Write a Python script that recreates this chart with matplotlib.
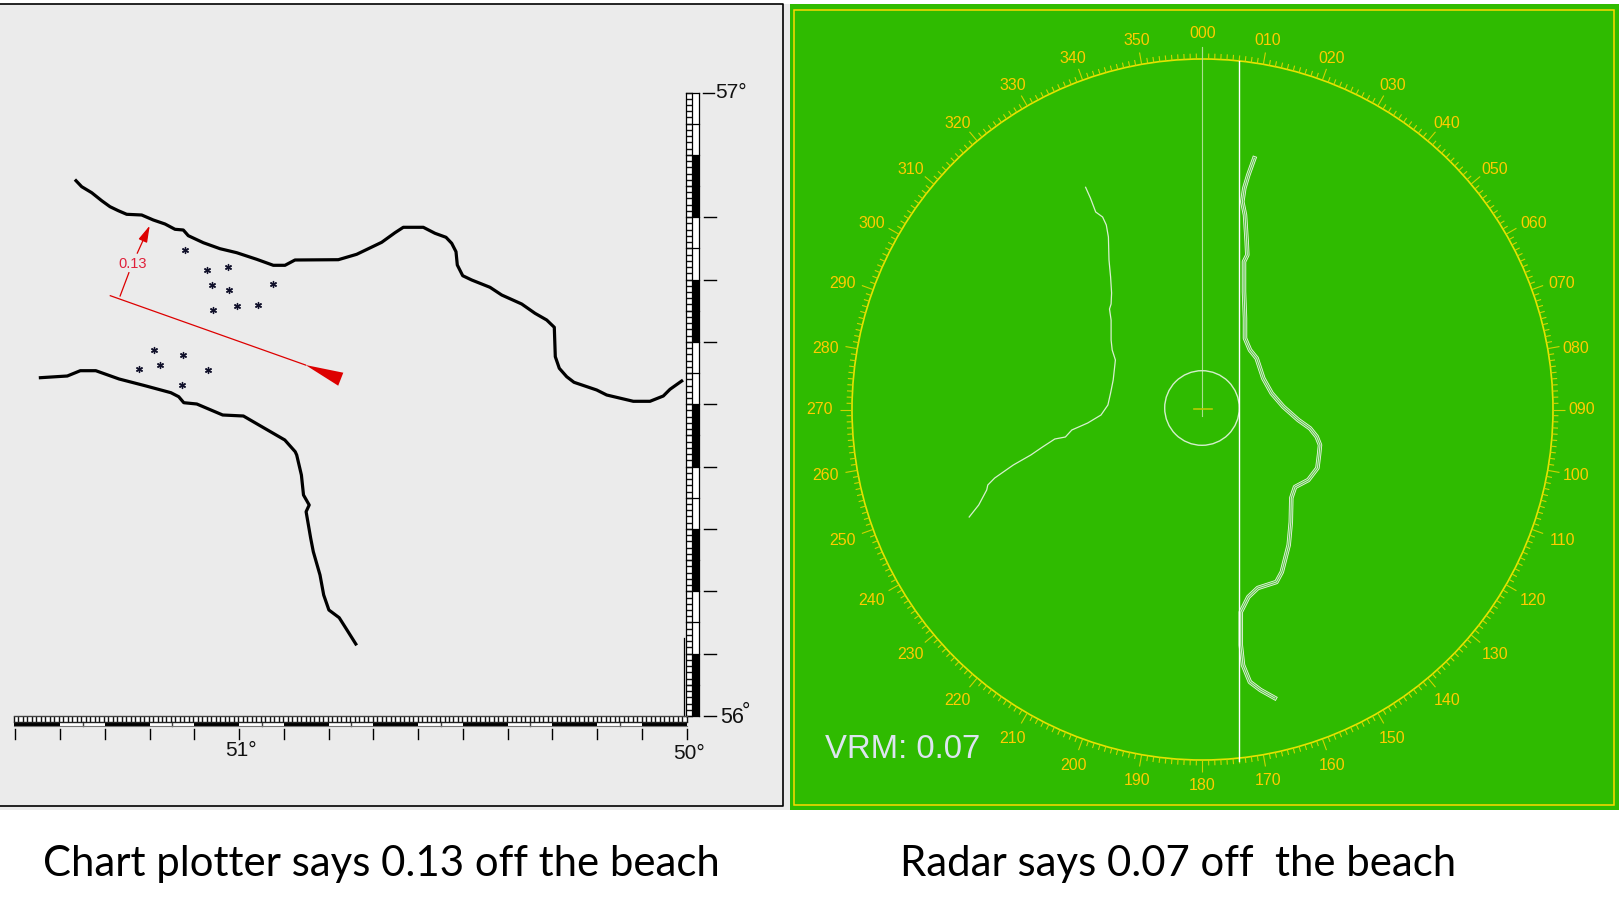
import numpy as np
import matplotlib
matplotlib.use('Agg')
import matplotlib.pyplot as plt
from matplotlib.collections import LineCollection
from matplotlib.patches import Rectangle, Polygon, Circle

# traced shoreline on the chart plotter, picture pixels
upper_coast_x = [76, 81.7, 91.7, 101.7, 110, 118.3, 126.7, 141.7, 153.3, 165, 175, 183.3, 188.3, 203.3, 220, 236.7,
                 256.7, 273.3, 285, 295, 338.3, 356.7, 381.7, 395, 403.3, 423.3, 435, 446, 451.7, 456, 457.3, 462.7,
                 471.7, 490, 501.7, 521.7, 535, 546.7, 554.3, 555.3, 559.3, 566.7, 574, 596.7, 606.7, 633.3, 650,
                 663.3, 670, 681.7]
upper_coast_y = [180.7, 186.7, 192.7, 200.7, 206.7, 210.7, 214.3, 215, 220, 224, 229.3, 230, 235.7, 242.7, 248.7, 252.7,
                 259.3, 265.3, 265.3, 260, 259.7, 254.3, 242.3, 232.7, 227.3, 227.3, 233.3, 237.3, 243.3, 251.7, 265, 275.7,
                 280, 287.3, 295, 304, 313.3, 320, 327.3, 356.7, 368.3, 376.7, 382.3, 390, 395, 401.3, 401.3,
                 396, 389.3, 381]
lower_coast_x = [40.4, 67.3, 80.3, 95.8, 119.1, 145, 170.9, 178.7, 183.8, 196.8, 222.7, 243.4, 258.9, 284.8, 295.2,
                 296.7, 301.4, 303.5, 309.2, 306.1, 310.7, 313.3, 320, 323.7, 328.9, 339.2, 347, 355.8]
lower_coast_y = [377.7, 376, 370.7, 370.7, 379, 385.7, 392.7, 396.7, 402.7, 404, 415, 416, 425, 440, 451.7,
                 455, 475, 495, 505, 511.7, 538.3, 551.7, 575, 595, 610, 617.7, 630, 644]

# soundings
sounding_x = [185.4, 207.2, 228.4, 211.8, 229.4, 272.9, 212.8, 236.7, 257.9, 154.3, 182.8, 160.5, 138.8, 207.7, 181.8]
sounding_y = [250, 270.3, 267.3, 285, 290, 284, 310, 305.7, 304.7, 350.3, 355.3, 365, 369, 370, 384.7]

# radar echoes
radar_left_x = [1085.6, 1090.4, 1095.7, 1102.6, 1106.3, 1108.4, 1109, 1110.6, 1111.6, 1111.1, 1109.5, 1111.1, 1111.1,
                1112.2, 1115.4, 1113.2, 1110.6, 1107.9, 1101, 1087.7, 1071.8, 1065.4, 1054.8, 1042.5, 1030.8, 1013.3,
                994.7, 987.8, 986.7, 978.7, 969.2]
radar_left_y = [187.3, 198, 212, 217, 225, 237, 260, 277, 293, 304, 309, 320, 340,
                350, 360, 380, 393, 405, 415, 423, 430, 437, 439, 447, 455, 465,
                478, 485, 490, 505, 517]
radar_right_x = [1254.3, 1248.3, 1244.3, 1242.3, 1245, 1246.7, 1247.3, 1244, 1244, 1245, 1245, 1250, 1256.7, 1263.3,
                 1271.7, 1283.3, 1298.3, 1310, 1316.7, 1320, 1319, 1317.4, 1308.3, 1295, 1291.3, 1290.8, 1288.7,
                 1281.8, 1276.4, 1257.8, 1248.3, 1240.8, 1240.8, 1243, 1249.9, 1260.5, 1274.8]
radar_right_y = [158.3, 175, 188.3, 201.7, 215, 241.7, 255, 261.7, 291.7, 318.3, 338.3, 350, 358.3, 378.3,
                 393.3, 406.7, 420, 428.3, 436.7, 445, 455, 468, 480, 487, 498, 522, 545,
                 572, 582, 588, 597, 612, 645, 665, 682, 690, 698]

bearing_labels = list(range(0, 360, 10))
lat_ticks = [57.0, 56.8, 56.7, 56.6, 56.5, 56.4, 56.3, 56.2, 56.1, 56.0]
lon_ticks = [50 + i / 15 for i in range(16)]  # scale marks are 4' apart

plot_range = 'VRM: 0.07'
chart_range = '0.13'
left_caption = 'Chart plotter says 0.13 off the beach'
right_caption = 'Radar says 0.07 off  the beach'

PANEL_GREY = '#ebebeb'
RADAR_GREEN = '#2fbb00'
GOLD = '#ffcc00'
TICK_YELLOW = '#d0d400'
RED = '#dd0000'

plt.rcParams['font.family'] = ['Liberation Sans', 'DejaVu Sans']

fig = plt.figure(figsize=(16.24, 9.11), dpi=100)
ax = fig.add_axes([0, 0, 1, 1])
ax.set_xlim(0, 1624)
ax.set_ylim(911, 0)
ax.axis('off')


def lat_y(lat):
    return 716 - (lat - 56.0) * 623.5


def lon_x(lon):
    return 686.7 - (lon - 50.0) * 671.2


# chart plotter panel
ax.add_patch(Rectangle((0, 4), 790, 806, fc=PANEL_GREY, ec='none', zorder=0))
ax.plot([0, 783.5, 783.5, 0], [4.3, 4.3, 806, 806], color='black', lw=1.2, zorder=1)

ax.plot(upper_coast_x, upper_coast_y, color='black', lw=2.3, zorder=3, solid_joinstyle='round')
ax.plot(lower_coast_x, lower_coast_y, color='black', lw=2.3, zorder=3, solid_joinstyle='round')
ax.scatter(sounding_x, sounding_y, marker=(6, 2, 0), s=18, color='#10102a', lw=1, zorder=3)

# own ship vector and range arrow
ax.plot([110.3, 305.5], [295.7, 365], color=RED, lw=0.9, zorder=4)
ax.add_patch(Polygon([(305.5, 365), (343.3, 372.7), (338.2, 385.7)], fc=RED, ec='none', zorder=4))
ax.plot([120.1, 128.9], [296, 272.7], color=RED, lw=0.9, zorder=4)
ax.annotate('', xy=(149.7, 225.7), xytext=(137.2, 253.3),
            arrowprops=dict(arrowstyle='-|>,head_width=0.28,head_length=1.0', color=RED, lw=0.9,
                            shrinkA=0, shrinkB=0), zorder=4)
ax.text(133, 264, chart_range, color='#e0203a', fontsize=10.5, ha='center', va='center', zorder=4)

# latitude scale on the right
scale_top = lat_y(57.0)
scale_bot = lat_y(56.0)
ax.add_patch(Rectangle((686.3, scale_top), 12.5, scale_bot - scale_top, fc='white', ec='none', zorder=1))
step = (scale_bot - scale_top) / 10
for i in range(10):
    if i % 2 == 1:
        ax.add_patch(Rectangle((693.3, scale_top + i * step), 5.7, step, fc='black', ec='none', zorder=2))
    ax.plot([686.3, 699], [scale_top + i * step + step / 2] * 2, color='black', lw=0.9, zorder=2)
    ax.plot([686.3, 699], [scale_top + i * step] * 2, color='black', lw=0.9, zorder=2)
cells = np.linspace(scale_top, scale_bot, 101)
ax.add_collection(LineCollection([[(686.3, c), (692.3, c)] for c in cells], colors='#111111', linewidths=1, zorder=2))
for px in [686.3, 692.4, 699]:
    ax.plot([px, px], [scale_top, scale_bot], color='black', lw=0.9, zorder=2)
ax.plot([684.4, 684.4], [638, scale_bot], color='black', lw=0.9, zorder=2)
ax.plot([686.3, 699], [scale_bot, scale_bot], color='black', lw=0.9, zorder=2)

for lat in lat_ticks:
    x0 = 702.7 if lat == 57.0 else 704.5
    ax.plot([x0, x0 + 11.5], [lat_y(lat)] * 2, color='black', lw=1, zorder=2)
ax.text(715.5, lat_y(57.0) + 0.5, '57°', fontsize=15, ha='left', va='center', color='#111111')
ax.text(720.5, lat_y(56.0) + 1.5, '56', fontsize=15.5, ha='left', va='center', color='#111111')
ax.text(741.5, 711, '°', fontsize=15, ha='left', va='center', color='#111111')

# longitude scale along the bottom
west = lon_x(51.0)
east = lon_x(50.0)
step = (east - west) / 15
ax.add_patch(Rectangle((14, 715.7), east - 14, 10.8, fc='white', ec='none', zorder=1))
for i in range(15):
    if i % 2 == 0:
        ax.add_patch(Rectangle((west + i * step - 1.5 * (i == 0), 721.6), step + 1.5 * (i == 0), 4.9,
                               fc='black', ec='none', zorder=2))
    else:
        ax.plot([west + i * step + step / 2] * 2, [722, 726], color='#444444', lw=1, zorder=2)
cells = np.linspace(14, east, 151)
ax.add_collection(LineCollection([[(c, 716), (c, 722)] for c in cells], colors='#111111', linewidths=1, zorder=2))
ax.plot([14, east], [715.8, 715.8], color='#444444', lw=1, zorder=2)
ax.plot([14, east], [721.8, 721.8], color='#222222', lw=1, zorder=2)
ax.plot([14, east], [726.3, 726.3], color='#777777', lw=0.8, zorder=2)
for lon in lon_ticks:
    ax.plot([lon_x(lon)] * 2, [728.8, 739], color='black', lw=1, zorder=2)
ax.text(240.8, 750, '51°', fontsize=15, ha='center', va='center', color='#111111')
ax.text(689, 753.5, '50°', fontsize=15, ha='center', va='center', color='#111111')

# radar panel
ax.add_patch(Rectangle((790, 4), 829, 805.7, fc=RADAR_GREEN, ec='none', zorder=1))
ax.add_patch(Rectangle((793.7, 10.3), 820, 795, fc='none', ec='#ffd800', lw=1.1, zorder=2))

cx, cy, r = 1202.5, 409.5, 350.5
ax.add_patch(Circle((cx, cy), r, fc='none', ec='#e6e400', lw=1.2, zorder=2))
segs = []
for deg in range(360):
    length = 12 if deg % 10 == 0 else 5.5
    a = np.radians(deg)
    segs.append([(cx + r * np.sin(a), cy - r * np.cos(a)),
                 (cx + (r + length) * np.sin(a), cy - (r + length) * np.cos(a))])
ax.add_collection(LineCollection(segs, colors=TICK_YELLOW, linewidths=0.8, zorder=2))
for deg in bearing_labels:
    a = np.radians(deg)
    lab_r = 376 + 7 * abs(np.sin(a))
    # the top half of the ring labels sits a little low in the original
    off = min(deg, 360 - deg)
    dy = 5 if 20 <= off <= 80 else (2 if off == 10 else 0)
    dx = -3.5 if 80 <= deg <= 100 else 0
    ax.text(cx + lab_r * np.sin(a) + dx, cy - lab_r * np.cos(a) + dy, '%03d' % deg, color=GOLD, fontsize=11.5,
            ha='center', va='center', zorder=3)

# heading line, EBL, VRM ring
ax.plot([1202, 1202], [46.7, 416], color='#a8e090', lw=0.8, zorder=3)
ax.plot([1194, 1211.6], [408.7, 408.7], color='#b8cc00', lw=1.2, zorder=3)
ax.plot([1239.2, 1239.2], [61, 761], color='white', lw=1, zorder=4)
ax.add_patch(Circle((1202, 408), 37.3, fc='none', ec='#d4efcc', lw=1, zorder=3))

# echoes
ax.plot(radar_left_x, radar_left_y, color='#d8f0d0', lw=0.9, zorder=3)
ax.plot(radar_right_x, radar_right_y, color='#eef7e8', lw=3.2, zorder=3)
ax.plot(radar_right_x, radar_right_y, color='#55c040', lw=2, zorder=3)
ax.plot(radar_right_x, radar_right_y, color='#e4f4dc', lw=0.6, zorder=3)

ax.text(824.6, 750, plot_range, color='#dde4f0', fontsize=23.7, ha='left', va='center', zorder=3)

ax.text(381.7, 864, left_caption, fontsize=30.2, family=['Lato', 'DejaVu Sans'], ha='center', va='center', color='black')
ax.text(1178, 864, right_caption, fontsize=30.2, family=['Lato', 'DejaVu Sans'], ha='center', va='center', color='black')

fig.savefig('out.png', dpi=100)
